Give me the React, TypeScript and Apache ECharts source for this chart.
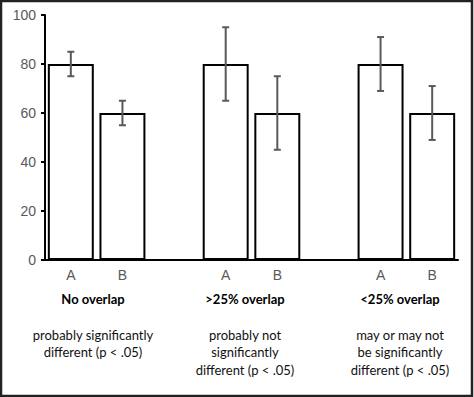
import React, { useEffect, useRef } from "react";
import * as echarts from "echarts";

const categories = ["A", "B", "", "A", "B", "", "A", "B"];
const means: (number | string)[] = [80, 60, "-", 80, 60, "-", 80, 60];
const errLow: (number | null)[] = [75, 55, null, 65, 45, null, 69, 49];
const errHigh: (number | null)[] = [85, 65, null, 95, 75, null, 91, 71];
const groupTitles = ["No overlap", ">25% overlap", "<25% overlap"];
const groupNotes = [
  "probably significantly\ndifferent (p < .05)",
  "probably not\nsignificantly\ndifferent (p < .05)",
  "may or may not\nbe significantly\ndifferent (p < .05)",
];
const groupCentersX = [93, 245, 400];

const FONT = "Lato";

export default function App() {
  const ref = useRef<HTMLDivElement>(null);
  useEffect(() => {
    document.body.style.margin = "0";
    const chart = echarts.init(ref.current!, null, { renderer: "svg" });
    const errData = categories
      .map((_, i) => (errLow[i] == null ? null : [i, errLow[i], errHigh[i]]))
      .filter((d) => d != null);
    const graphic: any[] = [
      {
        type: "rect",
        shape: { x: 1, y: 1, width: 471, height: 395 },
        style: { fill: "none", stroke: "#222", lineWidth: 2.5 },
        z: 100,
      },
    ];
    groupTitles.forEach((t, i) => {
      graphic.push({
        type: "text",
        x: groupCentersX[i],
        y: 299,
        style: {
          text: t,
          fontFamily: FONT,
          fontSize: 13,
          fontWeight: "bold",
          fill: "#000",
          align: "center",
          verticalAlign: "middle",
        },
      });
      graphic.push({
        type: "text",
        x: groupCentersX[i],
        y: 326,
        style: {
          text: groupNotes[i],
          fontFamily: FONT,
          fontSize: 13,
          lineHeight: 17.5,
          fill: "#111",
          align: "center",
          verticalAlign: "top",
        },
      });
    });
    chart.setOption({
      animation: false,
      backgroundColor: "#fff",
      grid: { left: 45, right: 16, top: 15, bottom: 137 },
      xAxis: {
        type: "category",
        data: categories,
        axisLine: { show: true, lineStyle: { color: "#000", width: 2 } },
        axisTick: { show: false },
        axisLabel: {
          color: "#595959",
          fontFamily: "Liberation Sans",
          fontSize: 14,
          margin: 8,
          interval: 0,
        },
      },
      yAxis: {
        type: "value",
        min: 0,
        max: 100,
        interval: 20,
        axisLine: { show: true, lineStyle: { color: "#000", width: 2 } },
        axisTick: { show: true, length: 4, lineStyle: { color: "#000", width: 2 } },
        splitLine: { show: false },
        axisLabel: {
          color: "#595959",
          fontFamily: "Liberation Sans",
          fontSize: 14,
          margin: 9,
        },
      },
      series: [
        {
          type: "bar",
          data: means,
          barCategoryGap: "11%",
          itemStyle: { color: "#fff", borderColor: "#000", borderWidth: 2 },
        },
        {
          type: "custom",
          data: errData,
          z: 10,
          renderItem: (params: any, api: any) => {
            const x = api.value(0);
            const lo = api.coord([x, api.value(1)]);
            const hi = api.coord([x, api.value(2)]);
            const cap = 3.5;
            const style = { stroke: "#595959", lineWidth: 2 };
            return {
              type: "group",
              children: [
                { type: "line", shape: { x1: lo[0], y1: lo[1], x2: hi[0], y2: hi[1] }, style },
                { type: "line", shape: { x1: lo[0] - cap, y1: lo[1], x2: lo[0] + cap, y2: lo[1] }, style },
                { type: "line", shape: { x1: hi[0] - cap, y1: hi[1], x2: hi[0] + cap, y2: hi[1] }, style },
              ],
            };
          },
        },
      ],
      graphic,
    });
    return () => chart.dispose();
  }, []);
  return <div ref={ref} style={{ width: 474, height: 397 }} />;
}
